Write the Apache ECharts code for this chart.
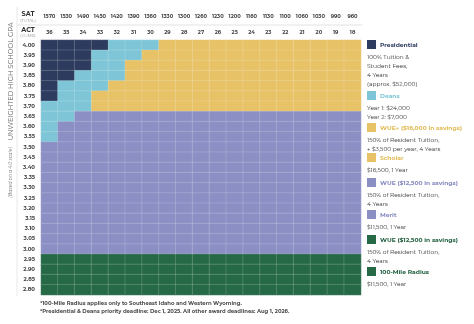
<!DOCTYPE html>
<html>
<head>
<meta charset="utf-8">
<script src="https://cdn.jsdelivr.net/npm/echarts@6/dist/echarts.min.js"></script>
<style>
  html, body { margin: 0; padding: 0; background: #fff; }
  #chart { width: 474px; height: 324px; }
</style>
</head>
<body>
<div id="chart"></div>
<script>
// SAT / ACT score columns (left = highest)
const satScores = [1570, 1530, 1490, 1450, 1420, 1390, 1360, 1330, 1300, 1260, 1230, 1200, 1160, 1130, 1100, 1060, 1030, 990, 960];
const actScores = [36, 35, 34, 33, 32, 31, 30, 29, 28, 27, 26, 25, 24, 23, 22, 21, 20, 19, 18];

// GPA rows (top = highest)
const gpaLevels = ['4.00', '3.95', '3.90', '3.85', '3.80', '3.75', '3.70', '3.65', '3.60', '3.55',
  '3.50', '3.45', '3.40', '3.35', '3.30', '3.25', '3.20', '3.15', '3.10', '3.05', '3.00',
  '2.95', '2.90', '2.85', '2.80'];

// Award tier per cell, one string per GPA row, one letter per score column
// P = Presidential, D = Deans, S = Scholar / WUE+, M = Merit / WUE, R = 100-Mile Radius / WUE
const awardRows = [
  'PPPPDDDSSSSSSSSSSSS',
  'PPPDDDSSSSSSSSSSSSS',
  'PPPDDSSSSSSSSSSSSSS',
  'PPDDDSSSSSSSSSSSSSS',
  'PDDDSSSSSSSSSSSSSSS',
  'PDDSSSSSSSSSSSSSSSS',
  'DDDSSSSSSSSSSSSSSSS',
  'DDMMMMMMMMMMMMMMMMM',
  'DMMMMMMMMMMMMMMMMMM',
  'DMMMMMMMMMMMMMMMMMM',
  'MMMMMMMMMMMMMMMMMMM',
  'MMMMMMMMMMMMMMMMMMM',
  'MMMMMMMMMMMMMMMMMMM',
  'MMMMMMMMMMMMMMMMMMM',
  'MMMMMMMMMMMMMMMMMMM',
  'MMMMMMMMMMMMMMMMMMM',
  'MMMMMMMMMMMMMMMMMMM',
  'MMMMMMMMMMMMMMMMMMM',
  'MMMMMMMMMMMMMMMMMMM',
  'MMMMMMMMMMMMMMMMMMM',
  'MMMMMMMMMMMMMMMMMMM',
  'RRRRRRRRRRRRRRRRRRR',
  'RRRRRRRRRRRRRRRRRRR',
  'RRRRRRRRRRRRRRRRRRR',
  'RRRRRRRRRRRRRRRRRRR'
];
const tierCodes = ['P', 'D', 'S', 'M', 'R'];

// Legend entries: title, tier, description lines
const legendTitles = ['Presidential', 'Deans', 'WUE+ ($16,000 in savings)', 'Scholar',
  'WUE ($12,500 in savings)', 'Merit', 'WUE ($12,500 in savings)', '100-Mile Radius'];
const legendTiers = ['P', 'D', 'S', 'S', 'M', 'M', 'R', 'R'];
const legendNotes = [
  ['100% Tuition &', 'Student Fees,', '4 Years', '(approx. $52,000)'],
  ['Year 1: $24,000', 'Year 2: $7,000'],
  ['150% of Resident Tuition,', '+ $3,500 per year, 4 Years'],
  ['$16,500, 1 Year'],
  ['150% of Resident Tuition,', '4 Years'],
  ['$11,500, 1 Year'],
  ['150% of Resident Tuition,', '4 Years'],
  ['$11,500, 1 Year']
];

const footnotes = [
  '¹100-Mile Radius applies only to Southeast Idaho and Western Wyoming.',
  '²Presidential & Deans priority deadline: Dec 1, 2025. All other award deadlines: Aug 1, 2026.'
];

// ---- styling ----
const FONT = 'Montserrat, "Noto Sans", sans-serif';
const tierColors = { P: '#2d3b5e', D: '#7ec6d7', S: '#e7c266', M: '#8b8fc4', R: '#266947' };
const tierText = { P: '#2d3b5e', D: '#7ec6d7', S: '#e2bb55', M: '#8589c0', R: '#1f5e3d' };
const legendTop = [45, 96, 128, 158, 183, 215, 240, 272];

const cells = [];
awardRows.forEach((row, yi) => {
  for (let xi = 0; xi < row.length; xi++) {
    cells.push([xi, yi, tierCodes.indexOf(row[xi])]);
  }
});

const graphics = [];
// header captions
graphics.push(
  { type: 'text', style: { x: 28, y: 14, text: 'SAT', fill: '#333', font: `bold 6.5px ${FONT}`, textAlign: 'center', textVerticalAlign: 'middle' } },
  { type: 'text', style: { x: 28, y: 20.5, text: '(TOTAL)', fill: '#8a8a8a', font: `4px ${FONT}`, textAlign: 'center', textVerticalAlign: 'middle' } },
  { type: 'text', style: { x: 28, y: 30, text: 'ACT', fill: '#333', font: `bold 6.5px ${FONT}`, textAlign: 'center', textVerticalAlign: 'middle' } },
  { type: 'text', style: { x: 28, y: 36, text: '(COMP)', fill: '#8a8a8a', font: `4px ${FONT}`, textAlign: 'center', textVerticalAlign: 'middle' } },
  { type: 'line', shape: { x1: 17, y1: 25, x2: 362, y2: 25 }, style: { stroke: '#dcdcdc', lineWidth: 0.8 } },
  { type: 'line', shape: { x1: 17, y1: 7, x2: 17, y2: 296 }, style: { stroke: '#e2e2e2', lineWidth: 0.8 } }
);
// rotated GPA caption
graphics.push({
  type: 'text',
  x: 11, y: 110, rotation: Math.PI / 2,
  style: {
    text: '{s|(Based on a 4.0 scale)}  {b|UNWEIGHTED HIGH SCHOOL GPA}',
    textAlign: 'center', textVerticalAlign: 'middle',
    rich: {
      s: { fontSize: 4.6, fontStyle: 'italic', fill: '#777', fontFamily: FONT },
      b: { fontSize: 6.8, fill: '#666', fontFamily: FONT }
    }
  }
});
// legend
legendTitles.forEach((title, i) => {
  const t = legendTiers[i];
  const y = legendTop[i];
  graphics.push({ type: 'rect', shape: { x: 367, y: y - 5, width: 9, height: 9 }, style: { fill: tierColors[t] } });
  graphics.push({ type: 'text', style: { x: 380, y: y, text: title, fill: tierText[t], font: `bold 6px ${FONT}`, textVerticalAlign: 'middle' } });
  legendNotes[i].forEach((line, j) => {
    graphics.push({ type: 'text', style: { x: 367, y: y + 12.5 + j * 8.8, text: line, fill: '#333', font: `5.9px ${FONT}`, textVerticalAlign: 'middle' } });
  });
});
// footnotes
footnotes.forEach((line, i) => {
  graphics.push({ type: 'text', style: { x: 40, y: 303 + i * 8, text: line, fill: '#4a4a4a', font: `bold 5.3px ${FONT}`, textVerticalAlign: 'middle' } });
});

const chart = echarts.init(document.getElementById('chart'), null, { renderer: 'canvas' });
chart.setOption({
  animation: false,
  backgroundColor: '#fff',
  grid: { left: 41, right: 113, top: 40, bottom: 29 },
  xAxis: [
    {
      type: 'category', data: satScores, position: 'top',
      axisLine: { show: false }, axisTick: { show: false },
      axisLabel: { interval: 0, margin: 21, fontSize: 5.2, fontWeight: 'bold', color: '#444', fontFamily: FONT },
      splitLine: { show: false }
    },
    {
      type: 'category', data: actScores, position: 'top',
      axisLine: { show: false }, axisTick: { show: false },
      axisLabel: { interval: 0, margin: 5, fontSize: 5.2, fontWeight: 'bold', color: '#444', fontFamily: FONT },
      splitLine: { show: false }
    }
  ],
  yAxis: {
    type: 'category', data: gpaLevels, inverse: true,
    axisLine: { show: false }, axisTick: { show: false },
    axisLabel: { interval: 0, margin: 6, fontSize: 5.4, fontWeight: 'bold', color: '#444', fontFamily: FONT },
    splitLine: { show: false }
  },
  visualMap: {
    show: false, type: 'piecewise', dimension: 2, seriesIndex: 0,
    pieces: tierCodes.map((c, i) => ({ value: i, color: tierColors[c] }))
  },
  series: [{
    type: 'heatmap', xAxisIndex: 0, yAxisIndex: 0,
    data: cells,
    itemStyle: { borderColor: 'rgba(255,255,255,0.32)', borderWidth: 0.5 },
    emphasis: { disabled: true }
  }],
  graphic: graphics
});
</script>
</body>
</html>
